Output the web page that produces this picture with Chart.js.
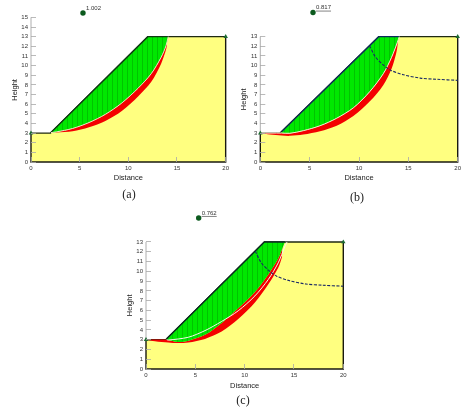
<!DOCTYPE html>
<html><head><meta charset="utf-8">
<script src="https://cdn.jsdelivr.net/npm/chart.js@4"></script>
<style>
html,body{margin:0;padding:0;background:#fff;width:474px;height:410px;overflow:hidden}
canvas{position:absolute}
.cap{position:absolute;font:12px "Liberation Serif",serif;color:#222;transform:translate(-50%,-50%)}
</style></head><body>
<canvas id="a" width="237" height="205" style="left:0;top:0;width:237px;height:205px"></canvas>
<canvas id="b" width="237" height="205" style="left:237px;top:0;width:237px;height:205px"></canvas>
<canvas id="c" width="250" height="205" style="left:110px;top:205px;width:250px;height:205px"></canvas>
<div class="cap" style="left:129px;top:194px">(a)</div>
<div class="cap" style="left:357px;top:197px">(b)</div>
<div class="cap" style="left:243px;top:400px">(c)</div>
<script>
const xTicks = [0,5,10,15,20];
const yTicksA = [0,1,2,3,4,5,6,7,8,9,10,11,12,13,14,15];
const yTicksBC = [0,1,2,3,4,5,6,7,8,9,10,11,12,13];
const groundSurface = [[0,3],[2,3],[12,13],[20,13]];
const boundary = [[0,3],[0,0],[20,0],[20,13]];
const supports = [[0,3],[20,13]];
const phreatic = [[11.08,12.07],[11.66,10.9],[12.5,10.03],[13.25,9.5],[14.5,9.05],[16.2,8.7],[17.9,8.58],[20,8.47]];

const factorA = 1.002, centreA = [[5.34,15.46]];
const topA = [[2.05,3.05],[12,13],[14.1,13]];
const slipA = [[2.05,3.05],[2.6,3.12],[4.28,3.48],[5.96,4.09],[7.64,4.94],[9.33,6.12],[11,7.65],[12.36,9.17],[13.37,10.86],[13.87,12.05],[14.1,13]];
const lowerA = [[2.05,3.05],[2.6,3.07],[4.28,3.2],[5.96,3.6],[7.64,4.26],[9.33,5.28],[11,6.8],[12.36,8.32],[13.37,10.2],[13.8,11.4],[13.97,12.05]];

const factorB = 0.817, centreB = [[5.34,15.5]];
const topB = [[2.17,3.15],[12,13],[14.08,13]];
const slipB = [[0,3],[2.17,3],[3,2.98],[4.36,3.25],[6.05,3.76],[7.74,4.54],[9.43,5.62],[11.1,7.31],[12.47,9.17],[13.3,10.86],[13.88,12.39],[14.08,13]];
const lowerB = [[0,3],[0.98,2.84],[2.17,2.74],[3,2.71],[4.36,2.84],[6.05,3.18],[7.74,3.76],[9.43,4.77],[11.1,6.29],[12.47,7.99],[13.3,9.68],[13.75,11.2],[13.92,12.05]];

const factorC = 0.762, centreC = [[5.34,15.46]];
const topC = [[2.1,3.1],[12,13],[14.08,13]];
const slipC = [[0,3],[2.1,3],[3.27,2.76],[4.29,2.9],[5.98,3.5],[7.67,4.72],[9.35,6.22],[11.04,7.89],[12.4,9.68],[13.4,11.3],[13.91,12.56],[14.08,13]];
const whiteC = [[2.1,3],[2.26,2.96],[4.29,3.25],[5.98,3.93],[7.67,4.87],[9.35,5.96],[11.04,7.48],[12.4,9.17],[13.4,10.86],[14.1,12.6],[14.3,13]];
const lowerC = [[0,3],[0.91,2.85],[2.26,2.71],[3.27,2.65],[4.29,2.71],[5.98,3.08],[7.67,3.83],[9.35,5.11],[11.04,6.8],[12.4,8.67],[13.4,10.36],[13.8,11.5]];

const pts = a => a.map(p => ({x:p[0], y:p[1]}));
const FONT = '"Liberation Sans", Arial, sans-serif';

function stripes(){
  const c = document.createElement('canvas'); c.width = 5; c.height = 2;
  const g = c.getContext('2d');
  g.fillStyle = '#00e800'; g.fillRect(0,0,5,2);
  g.fillStyle = '#00c400'; g.fillRect(2,0,1,2);
  return g.createPattern(c,'repeat');
}
const pattern = stripes();

const valueLabel = {
  id:'valueLabel',
  afterDatasetsDraw(chart,args,o){
    const pt = chart.getDatasetMeta(0).data[0], ctx = chart.ctx;
    const text = o.value.toFixed(3);
    ctx.save();
    ctx.font = '6px ' + FONT; ctx.fillStyle = '#333';
    ctx.textBaseline = 'middle'; ctx.textAlign = 'left';
    const x = pt.x + o.dx, y = pt.y + o.dy;
    ctx.fillText(text, x, y);
    if (o.underline){
      ctx.strokeStyle = '#333'; ctx.lineWidth = .6;
      const w = ctx.measureText(text).width;
      ctx.beginPath(); ctx.moveTo(x, y+3.5); ctx.lineTo(x+w, y+3.5); ctx.stroke();
    }
    ctx.restore();
  }
};

function makeChart(id, s){
  const line = (data,extra) => Object.assign({data:pts(data), showLine:true, pointRadius:0, borderWidth:1, fill:false, clip:false, tension:0}, extra);
  new Chart(document.getElementById(id), {
    type:'scatter',
    plugins:[valueLabel],
    data:{datasets:[
      {data:pts(s.centre), pointRadius:2.7, pointBackgroundColor:'#0c5a1e', pointBorderWidth:0, showLine:false, clip:false},
      {data:pts(supports), pointRadius:2.6, pointStyle:'triangle', pointBackgroundColor:'#1c6b32', pointBorderWidth:0, showLine:false, clip:false},
      line(s.piezo||[], {borderColor:'#1b2a66', borderWidth:1.1, borderDash:[3,1.5], tension:.3}),
      line(boundary, {borderColor:'#1a1a10', borderWidth:1.4}),
      line(s.white, {borderColor:s.whiteColor, borderWidth:1, tension:.3}),
      line(s.top, {borderColor:s.topColor, borderWidth:1.3, fill:6, backgroundColor:pattern}),
      line(s.slip, {borderWidth:0, borderColor:'rgba(0,0,0,0)', fill:7, backgroundColor:'#f40000', tension:.3}),
      line(s.lower, {borderWidth:0, borderColor:'rgba(0,0,0,0)', tension:.3}),
      line(groundSurface, {borderColor:'#1f2a12', borderWidth:1.4, fill:'origin', backgroundColor:'#ffff80'}),
      line([[0,3],[0,s.yTicks[s.yTicks.length-1]]], {borderColor:'#9a9a9a', borderWidth:.8})
    ]},
    options:{
      responsive:false, animation:false, devicePixelRatio:1,
      events:[],
      layout:{padding:{top:s.padTop,right:s.padRight,left:0,bottom:0}},
      plugins:{legend:{display:false},tooltip:{enabled:false},valueLabel:{value:s.factor,dx:s.dx,dy:s.dy,underline:s.underline}},
      scales:{
        x:{type:'linear',min:0,max:20,
          afterBuildTicks:a=>{a.ticks=xTicks.map(v=>({value:v}));},
          afterFit:a=>{a.height=s.axisH;},
          border:{display:false},
          grid:{drawOnChartArea:false,tickLength:-5,color:'#a8a8a8',z:1,lineWidth:.8},
          ticks:{padding:8,color:'#333',font:{size:6,family:FONT},maxRotation:0,autoSkip:false,callback:v=>String(v)},
          title:{display:true,text:'Distance',color:'#222',font:{size:7.5,family:FONT},padding:{top:0,bottom:s.xTitleBottom}}
        },
        y:{type:'linear',min:0,max:15.6,
          afterBuildTicks:a=>{a.ticks=s.yTicks.map(v=>({value:v}));},
          afterFit:a=>{a.width=s.axisW;},
          border:{display:false},
          grid:{drawOnChartArea:false,tickLength:-5,color:'#a8a8a8',z:1,lineWidth:.8},
          ticks:{padding:8,color:'#333',font:{size:6,family:FONT},autoSkip:false,callback:v=>String(v)},
          title:{display:true,text:'Height'+' '.repeat(s.titleShift),color:'#222',font:{size:7.5,family:FONT},padding:{top:s.yTitleTop,bottom:0}}
        }
      }
    }
  });
}

makeChart('a',{centre:centreA,factor:factorA,top:topA,slip:slipA,white:slipA,lower:lowerA,whiteColor:'#eee0c0',topColor:'#0e3a12',yTicks:yTicksA,
  padTop:8.3,padRight:8,axisH:43,axisW:31,xTitleBottom:22.5,yTitleTop:10.5,titleShift:3,dx:3,dy:-5,underline:false});
makeChart('b',{centre:centreB,factor:factorB,top:topB,slip:slipB,white:slipB,lower:lowerB,piezo:phreatic,whiteColor:'#f4ecd0',topColor:'#0b2a5a',yTicks:yTicksBC,
  padTop:8.3,padRight:16.3,axisH:43,axisW:23.3,xTitleBottom:22.5,yTitleTop:2.8,titleShift:12,dx:3,dy:-5,underline:true});
makeChart('c',{centre:centreC,factor:factorC,top:topC,slip:slipC,white:whiteC,lower:lowerC,piezo:phreatic,whiteColor:'#f6f6e8',topColor:'#0b2a22',yTicks:yTicksBC,
  padTop:10.3,padRight:16.7,axisH:41,axisW:36,xTitleBottom:19.8,yTitleTop:15.5,titleShift:12,dx:3,dy:-5,underline:true});
</script>
</body></html>
